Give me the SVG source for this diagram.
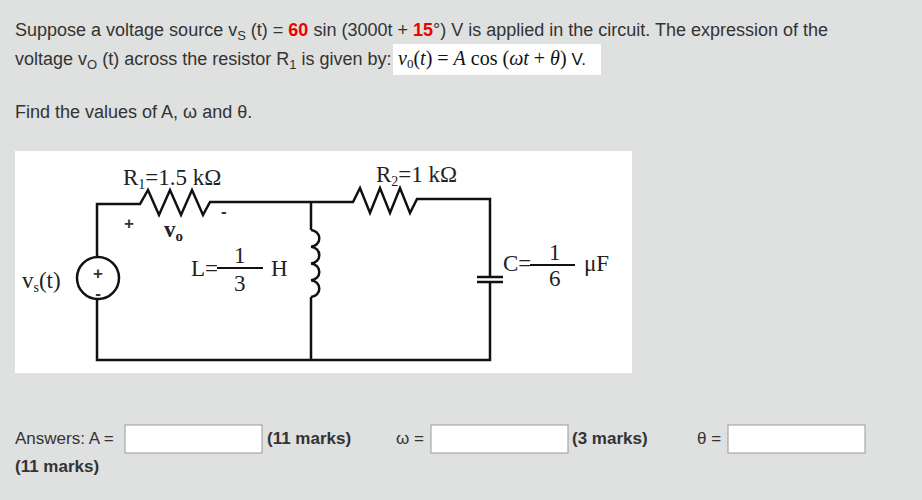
<svg xmlns="http://www.w3.org/2000/svg" width="922" height="500" viewBox="0 0 922 500">
<style>
.t{font-family:"Liberation Sans",Arial,sans-serif;font-size:17px;fill:#333}
.q{font-size:18px}
.b{font-weight:bold}
.r{fill:#e00;font-weight:bold}
.s{font-family:"Liberation Serif","Times New Roman",serif;font-size:23px;fill:#222}
.w{fill:none;stroke:#111;stroke-width:2.5}
.box{fill:#fff;stroke:#999;stroke-width:1}
</style>
<rect width="922" height="500" fill="#dfe0e0"/>
<text class="t q" x="15" y="36">Suppose a voltage source v<tspan font-size="13" dy="4">S</tspan><tspan dy="-4"> (t) = </tspan><tspan class="r">60</tspan> sin (3000t + <tspan class="r">15</tspan>°) V is applied in the circuit. The expression of the</text>
<text class="t q" x="15" y="65">voltage v<tspan font-size="13" dy="4">O</tspan><tspan dy="-4"> (t) across the resistor R</tspan><tspan font-size="13" dy="4">1</tspan><tspan dy="-4"> is given by:</tspan></text>
<rect x="393" y="44" width="208" height="31" fill="#fff"/>
<text x="398" y="65" font-family="Liberation Serif,serif" font-size="20" fill="#111"><tspan font-style="italic">v</tspan><tspan font-size="13" dy="3">0</tspan><tspan dy="-3">(</tspan><tspan font-style="italic">t</tspan>) = <tspan font-style="italic">A</tspan> cos (<tspan font-style="italic">ωt</tspan> + <tspan font-style="italic">θ</tspan>) <tspan font-family="Liberation Sans,sans-serif" font-size="17">V.</tspan></text>
<text class="t q" x="15" y="118">Find the values of A, ω and θ.</text>
<rect x="15" y="151" width="617" height="222" fill="#fff"/>
<g id="connectors">
<path class="w" d="M97,258 V204 H140 L148,190 L159,215 L170,190 L181,215 L192,190 L203,215 L210,202 H311 V230 M311,297 V360 H97 V298 M311,202 H353 L360,188 L370,213 L380,188 L390,213 L400,188 L410,213 L417,199 H490 V277 M490,282 V360 H311"/>
</g>
<g id="R1"><text class="s" x="123" y="185">R<tspan font-size="14" dy="4">1</tspan><tspan dy="-4">=1.5 kΩ</tspan></text>
<text class="t b" x="124" y="229" font-size="26" fill="#111">+</text><text class="t b" x="221" y="217" font-size="24" fill="#111">-</text>
<text class="s" x="164" y="237" font-weight="bold">v<tspan font-size="15" dy="4">o</tspan></text></g>
<g id="Vs"><circle cx="98" cy="278" r="21" fill="#fff" stroke="#111" stroke-width="2.5"/>
<text class="t b" x="98" y="279" text-anchor="middle" font-size="24" fill="#111">+</text>
<text class="t b" x="98" y="299" text-anchor="middle" font-size="24" fill="#111">-</text>
<text class="s" x="22" y="288">v<tspan font-size="14" dy="4">s</tspan><tspan dy="-4">(t)</tspan></text></g>
<g id="L"><path class="w" d="M311,230 a9,8.4 0 0 1 0,16.75 a9,8.4 0 0 1 0,16.75 a9,8.4 0 0 1 0,16.75 a9,8.4 0 0 1 0,16.75"/>
<text class="s" x="191" y="276">L=</text><line x1="217" y1="268" x2="263" y2="268" stroke="#111" stroke-width="1.8"/>
<text class="s" x="234" y="263">1</text><text class="s" x="234" y="291">3</text><text class="s" x="271" y="276">H</text></g>
<g id="R2"><text class="s" x="376" y="182">R<tspan font-size="14" dy="4">2</tspan><tspan dy="-4">=1 kΩ</tspan></text></g>
<g id="C"><path class="w" d="M477,277 H503 M477,282 H503"/>
<text class="s" x="503" y="271">C=</text><line x1="530" y1="265" x2="575" y2="265" stroke="#111" stroke-width="1.8"/>
<text class="s" x="549" y="260">1</text><text class="s" x="549" y="286">6</text><text class="s" x="584" y="271">μF</text></g>
<text class="t" x="15" y="444">Answers: A =</text>
<rect class="box" x="125" y="425" width="137" height="28"/>
<text class="t b" x="267" y="444">(11 marks)</text>
<text class="t" x="396" y="444">ω =</text>
<rect class="box" x="431" y="425" width="137" height="28"/>
<text class="t b" x="572" y="444">(3 marks)</text>
<text class="t" x="697" y="444">θ =</text>
<rect class="box" x="728" y="425" width="137" height="28"/>
<text class="t b" x="15" y="472">(11 marks)</text>
</svg>
